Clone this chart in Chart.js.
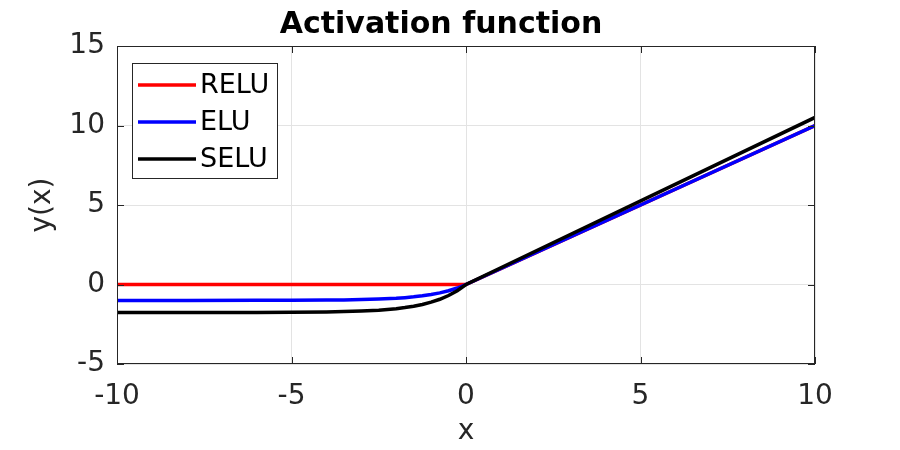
<!DOCTYPE html>
<html>
<head>
<meta charset="utf-8">
<script src="https://cdn.jsdelivr.net/npm/chart.js@4.4.0/dist/chart.umd.min.js"></script>
<style>
html,body{margin:0;padding:0;background:#fff;}
#wrap{width:900px;height:450px;}
</style>
</head>
<body>
<div id="wrap"><canvas id="c" width="900" height="450"></canvas></div>
<script>
// Values
const xValues   = [-10, -8, -6, -5, -4, -3.5, -3, -2.5, -2, -1.75, -1.5, -1.25, -1, -0.75, -0.5, -0.25, 0, 10];
const reluX     = [-10, 0, 10];
const reluY     = [0, 0, 10];
const eluY      = [-1.0, -1.0, -0.998, -0.993, -0.982, -0.970, -0.95, -0.918, -0.865, -0.826, -0.777, -0.713, -0.632, -0.528, -0.393, -0.221, 0, 10];
const seluY     = [-1.758, -1.757, -1.754, -1.746, -1.726, -1.705, -1.67, -1.614, -1.52, -1.452, -1.366, -1.254, -1.111, -0.928, -0.691, -0.389, 0, 10.507];
const seriesNames = ['RELU', 'ELU', 'SELU'];
const chartTitle = 'Activation function';
const xTicks = [-10, -5, 0, 5, 10];
const yTicks = [-5, 0, 5, 10, 15];

const FONT = "'DejaVu Sans', sans-serif";
const TXT = '#262626';

const toPts = (xs, ys) => xs.map((x, i) => ({x: x, y: ys[i]}));

const boxPlugin = {
  id: 'boxPlugin',
  afterDatasetsDraw(chart) {
    const {ctx, chartArea: a, scales} = chart;
    ctx.save();
    ctx.strokeStyle = TXT;
    ctx.lineWidth = 1;
    ctx.strokeRect(a.left + 0.5, a.top + 0.5, a.right - a.left - 1, a.bottom - a.top - 1);
    const L = 7;
    ctx.beginPath();
    xTicks.forEach(v => {
      const px = Math.round(scales.x.getPixelForValue(v)) + 0.5;
      ctx.moveTo(px, a.bottom); ctx.lineTo(px, a.bottom - L);
      ctx.moveTo(px, a.top); ctx.lineTo(px, a.top + L);
    });
    yTicks.forEach(v => {
      const py = Math.round(scales.y.getPixelForValue(v)) + 0.5;
      ctx.moveTo(a.left, py); ctx.lineTo(a.left + L, py);
      ctx.moveTo(a.right, py); ctx.lineTo(a.right - L, py);
    });
    ctx.stroke();

    // title
    ctx.fillStyle = '#000';
    ctx.font = 'bold 30px ' + FONT;
    ctx.textAlign = 'center';
    ctx.textBaseline = 'alphabetic';
    ctx.fillText(chartTitle, 441, 33);

    // legend box inside the axes
    const lx = 132, ly = 63, lw = 145, lh = 115;
    ctx.fillStyle = '#fff';
    ctx.fillRect(lx, ly, lw, lh);
    ctx.strokeStyle = TXT;
    ctx.strokeRect(lx + 0.5, ly + 0.5, lw, lh);
    ctx.font = '27px ' + FONT;
    ctx.textBaseline = 'middle';
    ctx.textAlign = 'left';
    [0, 1, 2].forEach(i => {
      const ds = chart.data.datasets[i];
      const yy = 85 + i * 37;
      ctx.strokeStyle = ds.borderColor;
      ctx.lineWidth = 3.5;
      ctx.beginPath();
      ctx.moveTo(138, yy); ctx.lineTo(196, yy);
      ctx.stroke();
      ctx.fillStyle = '#000';
      ctx.fillText(ds.label, 200, yy + 1);
    });
    ctx.restore();
  }
};

new Chart(document.getElementById('c'), {
  type: 'line',
  data: {
    datasets: [
      {label: seriesNames[0], data: toPts(reluX, reluY), borderColor: '#ff0000', borderWidth: 3.5, pointRadius: 0, fill: false, order: 3},
      {label: seriesNames[1], data: toPts(xValues, eluY), borderColor: '#0000ff', borderWidth: 3.5, pointRadius: 0, fill: false, order: 2},
      {label: seriesNames[2], data: toPts(xValues, seluY), borderColor: '#000000', borderWidth: 3.5, pointRadius: 0, fill: false, order: 1}
    ]
  },
  options: {
    responsive: false,
    animation: false,
    devicePixelRatio: 1,
    layout: {padding: {left: 0, right: 85, top: 46, bottom: 0}},
    plugins: {
      legend: {display: false},
      tooltip: {enabled: false},
      title: {display: false}
    },
    scales: {
      x: {
        type: 'linear', min: -10, max: 10,
        afterBuildTicks: s => { s.ticks = xTicks.map(v => ({value: v})); },
        afterFit: s => { s.height = 86; },
        ticks: {color: TXT, font: {family: FONT, size: 28}, padding: 16, maxRotation: 0},
        grid: {color: '#e3e3e3', lineWidth: 1, drawTicks: false},
        border: {display: false},
        title: {display: true, text: 'x', color: TXT, font: {family: FONT, size: 28}, padding: {top: 0, bottom: 1}}
      },
      y: {
        type: 'linear', min: -5, max: 15,
        afterBuildTicks: s => { s.ticks = yTicks.map(v => ({value: v})); },
        afterFit: s => { s.width = 117; },
        ticks: {color: TXT, font: {family: FONT, size: 28}, padding: 12},
        grid: {color: '#e3e3e3', lineWidth: 1, drawTicks: false},
        border: {display: false},
        title: {display: true, text: 'y(x)', color: TXT, font: {family: FONT, size: 28}, padding: {top: 26, bottom: 0}}
      }
    }
  },
  plugins: [boxPlugin]
});
</script>
</body>
</html>
